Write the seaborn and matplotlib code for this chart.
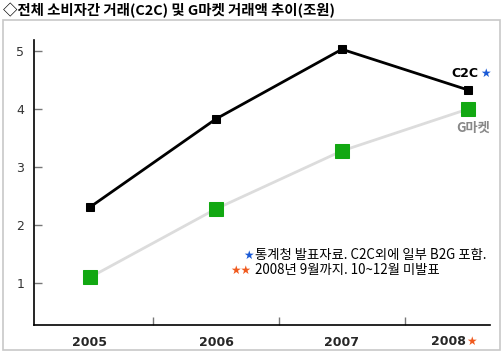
import matplotlib
matplotlib.use("Agg")
import matplotlib.pyplot as plt
import seaborn as sns
import pandas as pd
from matplotlib.patches import Rectangle
from matplotlib.transforms import blended_transform_factory

years = ["2005", "2006", "2007", "2008"]
c2c = [2.31, 3.83, 5.03, 4.33]
gmarket = [1.10, 2.28, 3.28, 4.00]
yticks = [1, 2, 3, 4, 5]

sns.set_theme(style="white")
plt.rcParams['font.family'] = ['Noto Sans CJK KR', 'DejaVu Sans']

df = pd.DataFrame({"x": range(len(years)), "C2C": c2c, "G": gmarket})

fig = plt.figure(figsize=(5.03, 3.55), dpi=100)
fig.patches.append(Rectangle((3/503, 5/355), 497/503, 330/355, transform=fig.transFigure,
                             fill=False, edgecolor="#c8c8c8", linewidth=1.2))
fig.text(3/503, 1 - 11/355, "◇전체 소비자간 거래(C2C) 및 G마켓 거래액 추이(조원)",
         fontsize=10.4, fontweight="bold", va="center", ha="left", color="black")

ax = fig.add_axes([34/503, 30/355, 456/503, 285/355])
sns.lineplot(data=df, x="x", y="G", ax=ax, color="#dcdcdc", linewidth=2,
             marker="s", markersize=10, markerfacecolor="#12a812", markeredgecolor="#12a812")
sns.lineplot(data=df, x="x", y="C2C", ax=ax, color="black", linewidth=2,
             marker="s", markersize=5.5, markerfacecolor="black", markeredgecolor="black")

ax.set_xlim(-0.444, 3.175)
ax.set_ylim(0.28, 5.19)
ax.set_xlabel("")
ax.set_ylabel("")
for s in ["top", "right"]:
    ax.spines[s].set_visible(False)
for s in ["left", "bottom"]:
    ax.spines[s].set_color("black")
    ax.spines[s].set_linewidth(1.2)

ax.set_yticks(yticks)
ax.set_yticklabels([str(v) for v in yticks], fontsize=9, color="#333333",
                   fontfamily=["DejaVu Sans"])
ax.tick_params(axis="y", direction="in", length=6, width=1, color="#777777", left=True, pad=7)

ax.set_xticks([0.5, 1.5, 2.5], minor=True)
ax.set_xticks(range(len(years) - 1))
ax.set_xticklabels(years[:-1], fontsize=9, fontweight="bold", fontfamily=["DejaVu Sans"])
ax.tick_params(axis="x", which="major", length=0, pad=8)
ax.tick_params(axis="x", which="minor", direction="in", length=6, width=1, color="#777777", bottom=True)

# last year label shifted left to make room for its footnote star
trans = blended_transform_factory(ax.transData, fig.transFigure)
ax.text(2.845, 1 - 341.5/355, years[-1], transform=trans, fontsize=9, fontweight="bold",
        ha="center", va="center", fontfamily=["DejaVu Sans"])
ax.text(3.03, 1 - 341/355, "★", transform=trans, fontsize=8.5, color="#f05a1e",
        ha="center", va="center", fontfamily=["DejaVu Sans"])

ax.text(2.87, 4.62, "C2C", fontsize=9, fontweight="bold", color="black", ha="left", va="center",
        fontfamily=["DejaVu Sans"])
ax.text(3.143, 4.62, "★", fontsize=8.5, color="#1a5ad6", ha="center", va="center", fontfamily=["DejaVu Sans"])
ax.text(3.04, 3.67, "G마켓", fontsize=9.5, fontweight="bold", color="#888888", ha="center", va="center")

ax.text(1.26, 1.48, "★", fontsize=8.5, color="#1a5ad6", ha="center", va="center", fontfamily=["DejaVu Sans"])
ax.text(1.31, 1.48, "통계청 발표자료. C2C외에 일부 B2G 포함.", fontsize=9.6, color="black", ha="left", va="center")
ax.text(1.195, 1.22, "★★", fontsize=8.5, color="#f05a1e", ha="center", va="center", fontfamily=["DejaVu Sans"])
ax.text(1.31, 1.22, "2008년 9월까지. 10~12월 미발표", fontsize=9.6, color="black", ha="left", va="center")

fig.savefig("out.png", dpi=100)
